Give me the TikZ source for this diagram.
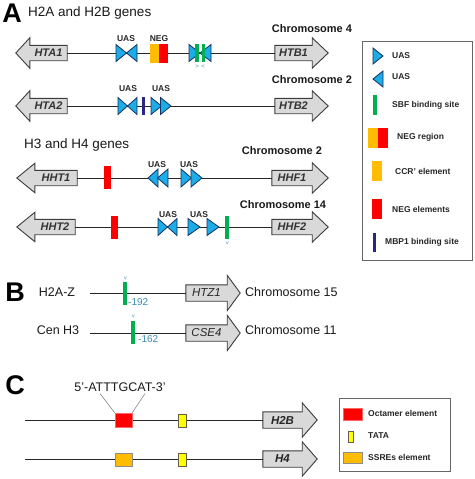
\documentclass[tikz,border=0pt]{standalone}
\usepackage{fontspec}
\setmainfont{Liberation Sans}
\usetikzlibrary{calc}
\pgfdeclarelayer{background}
\pgfsetlayers{background,main}
\definecolor{uasblue}{RGB}{28,172,232}
\definecolor{uasedge}{RGB}{20,50,95}
\definecolor{sbfgreen}{RGB}{0,176,80}
\definecolor{ccrorange}{RGB}{255,188,0}
\definecolor{negred}{RGB}{255,0,0}
\definecolor{mbpblue}{RGB}{40,40,130}
\definecolor{tealtxt}{RGB}{60,140,170}
\definecolor{tatayellow}{RGB}{255,255,0}
\definecolor{arrfill}{RGB}{217,217,217}
\definecolor{arredge}{RGB}{60,60,60}
\newcommand\arrowL[3]{\begin{pgfonlayer}{background}\filldraw[arrowshape] (#1.north east) -- (#1.south east) -- (#1.south west) -- ++(0,#2) -- ($(#1.west)+(-#3,0)$) -- ($(#1.north west)+(0,-#2)$) -- (#1.north west) -- cycle;\end{pgfonlayer}}
\newcommand\arrowR[3]{\begin{pgfonlayer}{background}\filldraw[arrowshape] (#1.north west) -- (#1.south west) -- (#1.south east) -- ++(0,#2) -- ($(#1.east)+(#3,0)$) -- ($(#1.north east)+(0,-#2)$) -- (#1.north east) -- cycle;\end{pgfonlayer}}
\newcommand\uastri[4]{\filldraw[uas] (#1,{#3-#4/2}) -- (#2,#3) -- (#1,{#3+#4/2}) -- cycle;}
\begin{document}
\begin{tikzpicture}[x=1pt,y=-1pt,
  arrowshape/.style={fill=arrfill,draw=arredge,line width=0.9pt,line join=miter},
  abody/.style={rectangle,inner sep=0pt,minimum height=15pt,font=\fontsize{11}{12}\selectfont\itshape\bfseries,text=black!80},
  bbody/.style={rectangle,inner sep=0pt,minimum height=16pt,font=\fontsize{11.5}{12}\selectfont\itshape,text=black!85},
  dna/.style={line width=1pt,black!85},
  uas/.style={fill=uasblue,draw=uasedge,line width=0.8pt,line join=miter},
  lab/.style={font=\fontsize{8.5}{10}\selectfont\bfseries,text=black!85,inner sep=0pt},
  chrom/.style={font=\fontsize{11}{12}\selectfont\bfseries,text=black!90,inner sep=0pt},
  title/.style={font=\fontsize{13.5}{15}\selectfont,text=black!90,inner sep=0pt},
  big/.style={font=\fontsize{27}{28}\selectfont\bfseries,inner sep=0pt},
  plain/.style={font=\fontsize{12.5}{14}\selectfont,text=black!90,inner sep=0pt},
  numtxt/.style={font=\fontsize{10}{11}\selectfont,text=tealtxt,inner sep=0pt},
  tinymark/.style={font=\fontsize{6}{6}\selectfont,text=tealtxt,inner sep=0pt},
  legbox/.style={draw=black!60,line width=1pt},
  kbox/.style={line width=0.6pt}]
\useasboundingbox (0,0) rectangle (474,479);

% ================= Panel A =================
\node[big] (lA) at (12,13) {A};
\node[title,anchor=west] (tA) at (28,13) {H2A and H2B genes};

% Row 1
\node[abody,minimum width=37pt] (hta1) at (48.5,53) {HTA1};
\arrowL{hta1}{7.5}{14}
\node[abody,minimum width=37pt] (htb1) at (293.5,53) {HTB1};
\arrowR{htb1}{7.5}{16}
\draw[dna] (hta1.east) -- (htb1.west);
\uastri{116}{126.5}{53}{17}
\uastri{137}{126.5}{53}{17}
\fill[ccrorange] (150,44) rectangle (159,63);
\fill[negred] (159,44) rectangle (168,63);
\uastri{189}{200}{53}{17}
\uastri{211}{200}{53}{17}
\fill[sbfgreen] (195,44) rectangle (198.5,62);
\fill[sbfgreen] (201.5,44) rectangle (205,62);
\node[tinymark] (m1) at (197,67) {>};
\node[tinymark] (m2) at (203,67) {<};
\node[lab] (u1) at (126,39) {UAS};
\node[lab] (n1) at (159,39) {NEG};
\node[chrom] (c4) at (312,29) {Chromosome 4};

% Row 2
\node[abody,minimum width=37pt] (hta2) at (48.5,106) {HTA2};
\arrowL{hta2}{7.5}{14}
\node[abody,minimum width=37pt] (htb2) at (293.5,106) {HTB2};
\arrowR{htb2}{7.5}{16}
\draw[dna] (hta2.east) -- (htb2.west);
\uastri{118}{127.5}{106}{17}
\uastri{137}{127.5}{106}{17}
\fill[mbpblue] (142,97) rectangle (145,115);
\uastri{151}{161.5}{106}{17}
\uastri{160.5}{171}{106}{17}
\node[lab] (u2) at (128,89) {UAS};
\node[lab] (u3) at (161,89) {UAS};
\node[chrom] (c2a) at (312,80) {Chromosome 2};

% H3/H4
\node[title,anchor=west] (tB) at (24,145) {H3 and H4 genes};

% Row 3
\node[abody,minimum width=42pt] (hht1) at (56,178) {HHT1};
\arrowL{hht1}{7}{18}
\node[abody,minimum width=40pt] (hhf1) at (292,178) {HHF1};
\arrowR{hhf1}{7.5}{16}
\draw[dna] (hht1.east) -- (hhf1.west);
\fill[negred] (104,166) rectangle (111,189);
\uastri{158}{148}{178}{18}
\uastri{168}{157.5}{178}{18}
\uastri{181}{191.5}{178}{18}
\uastri{191}{202}{178}{18}
\node[lab] (u4) at (157,165) {UAS};
\node[lab] (u5) at (189,165) {UAS};
\node[chrom] (c2b) at (282,151) {Chromosome 2};

% Row 4
\node[abody,minimum width=40pt] (hht2) at (55,227) {HHT2};
\arrowL{hht2}{7}{18}
\node[abody,minimum width=40pt] (hhf2) at (292,227) {HHF2};
\arrowR{hhf2}{7.5}{16}
\draw[dna] (hht2.east) -- (hhf2.west);
\fill[negred] (111,216) rectangle (118,239);
\uastri{158}{167.5}{227}{17}
\uastri{177}{167.5}{227}{17}
\uastri{188}{200}{227}{17}
\uastri{207}{219}{227}{17}
\fill[sbfgreen] (225,216) rectangle (229,239);
\node[tinymark,rotate=-90] (m3) at (227,243) {>};
\node[lab] (u6) at (168,215) {UAS};
\node[lab] (u7) at (199,215) {UAS};
\node[chrom] (c14) at (283,205) {Chromosome 14};

% Legend A
\draw[legbox] (362,41) rectangle (472,260);
\uastri{373}{383}{56}{16}
\node[lab,anchor=west] (k1) at (392,56) {UAS};
\uastri{383}{373}{79}{16}
\node[lab,anchor=west] (k2) at (392,77) {UAS};
\fill[sbfgreen] (373,95) rectangle (376.5,115);
\node[lab,anchor=west] (k3) at (392,105) {SBF binding site};
\fill[ccrorange] (368,128) rectangle (378,148);
\fill[negred] (378,128) rectangle (388,148);
\node[lab,anchor=west] (k4) at (397,137) {NEG region};
\fill[ccrorange] (372,161) rectangle (382,181);
\node[lab,anchor=west] (k5) at (395,171) {CCR' element};
\fill[negred] (372,199) rectangle (382,219);
\node[lab,anchor=west] (k6) at (392,209) {NEG elements};
\fill[mbpblue] (373,233) rectangle (376,252);
\node[lab,anchor=west] (k7) at (385,242) {MBP1 binding site};

% ================= Panel B =================
\node[big] (lB) at (15,292) {B};
\node[plain] (h2az) at (57,292) {H2A-Z};
\coordinate (s1) at (90,293);
\node[bbody,minimum width=41pt] (htz1) at (206.5,293) {HTZ1};
\arrowR{htz1}{9.5}{13}
\draw[dna] (s1) -- (htz1.west);
\fill[sbfgreen] (123,282) rectangle (127,305);
\node[tinymark,rotate=-90] (m4) at (125,278) {>};
\node[numtxt,anchor=west] (n192) at (128,302) {-192};
\node[plain,anchor=west] (c15) at (245,292) {Chromosome 15};

\node[plain] (cenh3) at (58,330) {Cen H3};
\coordinate (s2) at (90,333);
\node[bbody,minimum width=41pt] (cse4) at (206.5,333) {CSE4};
\arrowR{cse4}{9.5}{13}
\draw[dna] (s2) -- (cse4.west);
\fill[sbfgreen] (131,321) rectangle (135,344);
\node[tinymark,rotate=-90] (m5) at (133,316) {>};
\node[numtxt,anchor=west] (n162) at (138,339) {-162};
\node[plain,anchor=west] (c11) at (245,330) {Chromosome 11};

% ================= Panel C =================
\node[big] (lC) at (15,385) {C};
\node[plain] (seq) at (120,387) {5’-ATTTGCAT-3’};
\coordinate (s3) at (25,420);
\node[bbody,minimum width=39pt,font=\fontsize{11.5}{12}\selectfont\itshape\bfseries] (h2b) at (282.5,420) {H2B};
\arrowR{h2b}{9}{15}
\draw[dna] (s3) -- (h2b.west);
\node[draw=negred!60,fill=negred,kbox,inner sep=0pt,minimum width=17pt,minimum height=14pt] (oct) at (123.5,420) {};
\draw[black!55,line width=0.5pt] ($(seq.south)+(-20,2)$) -- (oct.north west);
\draw[black!55,line width=0.5pt] ($(seq.south)+(25,2)$) -- (oct.north east);
\filldraw[fill=tatayellow,draw=black!70!yellow,kbox] (178,414) rectangle (186,427);

\coordinate (s4) at (25,459);
\node[bbody,minimum width=39pt,font=\fontsize{11.5}{12}\selectfont\itshape\bfseries] (h4) at (282.5,459) {H4};
\arrowR{h4}{9}{15}
\draw[dna] (s4) -- (h4.west);
\filldraw[fill=ccrorange,draw=black!45,kbox] (115,453) rectangle (132,466);
\filldraw[fill=tatayellow,draw=black!70!yellow,kbox] (178,453) rectangle (186,466);

% Legend C
\draw[legbox] (339,398) rectangle (450,471);
\filldraw[fill=negred,draw=negred!60,kbox] (343,408) rectangle (362,420);
\node[lab,anchor=west] (o1) at (368,413) {Octamer element};
\filldraw[fill=tatayellow,draw=black!70!yellow,kbox] (348,431) rectangle (353,442);
\node[lab,anchor=west] (o2) at (368,436) {TATA};
\filldraw[fill=ccrorange,draw=black!45,kbox] (343,452) rectangle (362,463);
\node[lab,anchor=west] (o3) at (368,457) {SSREs element};
\end{tikzpicture}
\end{document}
